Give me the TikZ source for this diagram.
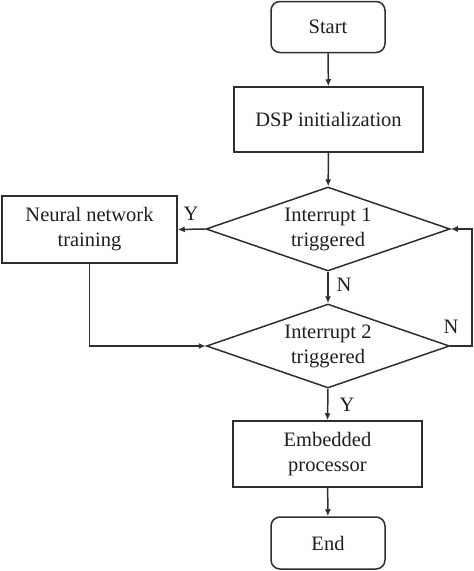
\documentclass[tikz,border=0pt]{standalone}
\usepackage{fontspec}
\setmainfont{Liberation Serif}
\usetikzlibrary{shapes.geometric,arrows.meta}
\begin{document}
\begin{tikzpicture}[x=1pt,y=1pt,
  every node/.style={font=\fontsize{20.5}{25}\selectfont, text=black!88},
  line/.style={draw=black!82, line width=1.5pt},
  arr/.style={line, -{Latex[length=7pt,width=6pt]}},
  term/.style={line, rectangle, rounded corners=9pt, inner sep=0pt},
  proc/.style={line, rectangle, inner sep=0pt, align=center},
  dec/.style={line, diamond, aspect=2.9, inner sep=0pt, align=center},
  lab/.style={inner sep=0pt}
]
\useasboundingbox (0,0) rectangle (474,-571);
\node[term, minimum width=114pt, minimum height=51pt] (start) at (328,-27) {Start};
\node[proc, minimum width=189pt, minimum height=65pt] (dsp) at (328.5,-119.5) {DSP initialization};
\node[dec, minimum width=244pt, minimum height=84pt] (d1) at (328,-229) {Interrupt 1\\triggered};
\node[proc, minimum width=175pt, minimum height=67pt] (nn) at (89.5,-229.5) {Neural network\\training};
\node[dec, minimum width=243pt, minimum height=84pt] (d2) at (328,-346) {Interrupt 2\\triggered};
\node[proc, minimum width=189pt, minimum height=66pt] (emb) at (327.5,-454) {Embedded\\processor};
\node[term, minimum width=114pt, minimum height=52pt] (end) at (328,-543) {End};
\coordinate (rb) at (472,-346);
\coordinate (rt) at (472,-229);
\coordinate (lb) at (89.5,-346);

\draw[arr] (start) -- (dsp);
\draw[arr] (dsp) -- (d1);
\draw[arr] (d1.west) -- (nn.east);
\draw[arr] (d1.south) -- (d2.north);
\draw[arr] (nn.south) -- (lb) -- (d2.west);
\draw[arr] (d2.east) -- (rb) -- (rt) -- (d1.east);
\draw[arr] (d2.south) -- (emb.north);
\draw[arr] (emb) -- (end);

\node[lab] (y1) at (191,-214) {Y};
\node[lab] (n1) at (344,-285) {N};
\node[lab] (n2) at (451,-327) {N};
\node[lab] (y2) at (347,-405) {Y};
\end{tikzpicture}
\end{document}
